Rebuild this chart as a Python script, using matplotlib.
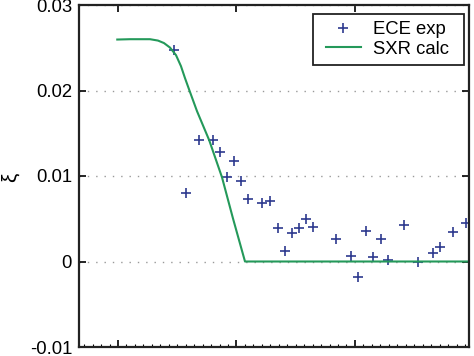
import matplotlib
matplotlib.use("Agg")
import matplotlib.pyplot as plt
from matplotlib.ticker import MultipleLocator, FixedLocator
from matplotlib.legend_handler import HandlerLine2D

plt.rcParams['font.family'] = ['Liberation Sans', 'DejaVu Sans']

# ECE experimental points
ece_x = [0.2945, 0.3148, 0.3367, 0.3604, 0.3722, 0.3958, 0.3840, 0.4076, 0.4194, 0.4431,
         0.4566, 0.4701, 0.4819, 0.4937, 0.5055, 0.5173, 0.5292, 0.5680, 0.5933, 0.6051,
         0.6186, 0.6304, 0.6439, 0.6558, 0.6828, 0.7064, 0.7317, 0.7435, 0.7655, 0.7874]
ece_y = [0.02473, 0.00797, 0.01418, 0.01418, 0.01277, 0.01172, 0.00984, 0.00938, 0.00727, 0.00680,
         0.00703, 0.00387, 0.00117, 0.00328, 0.00387, 0.00492, 0.00398, 0.00258, 0.00070, -0.00176,
         0.00352, 0.00047, 0.00258, 0.00023, 0.00422, 0.00000, 0.00094, 0.00164, 0.00340, 0.00445]

# SXR calculated curve
sxr_x = [0.1988, 0.2203, 0.2540, 0.2675, 0.2776, 0.2878, 0.2979, 0.3063, 0.3131, 0.3198,
         0.3334, 0.3540, 0.3756, 0.3941, 0.4144, 0.7924]
sxr_y = [0.02596, 0.02600, 0.02600, 0.02584, 0.02555, 0.02502, 0.02414, 0.02285, 0.02145, 0.02016,
         0.01758, 0.01418, 0.00984, 0.00504, 0.00000, 0.00000]

yticks = [-0.01, 0, 0.01, 0.02, 0.03]
ytick_labels = ['-0.01', '0', '0.01', '0.02', '0.03']
xticks = [0.2, 0.4, 0.6]

fig = plt.figure(figsize=(4.74, 3.56), dpi=100)
ax = fig.add_axes([79/474, 1-347/356, (469-79)/474, (347-5)/356])

l1, = ax.plot(ece_x, ece_y, linestyle='none', marker='+', markersize=7.5,
              markeredgewidth=1.2, color='#2e3a8f', label='ECE exp')
l2, = ax.plot(sxr_x, sxr_y, color='#24995a', linewidth=1.5, label='SXR calc')

ax.set_xlim(0.1342, 0.7925)
ax.set_ylim(-0.01, 0.03)
ax.yaxis.set_major_locator(FixedLocator(yticks))
ax.set_yticklabels(ytick_labels)
ax.xaxis.set_major_locator(FixedLocator(xticks))
ax.xaxis.set_minor_locator(MultipleLocator(0.2/14))

ax.tick_params(axis='both', which='major', direction='in', length=5, width=1.2,
               top=True, right=True, labelsize=13.3, pad=5, labelbottom=False)
ax.tick_params(axis='x', which='minor', direction='in', length=2.5, width=0.8,
               top=False, bottom=True)
ax.tick_params(axis='y', which='minor', left=False, right=False)

for s in ax.spines.values():
    s.set_linewidth(1.6)
    s.set_color('#222222')

ax.yaxis.grid(True, linestyle=(0, (1, 5)), color='#999999', linewidth=1.0)
ax.set_axisbelow(True)

bx0 = (313 - 79) / 390
bx1 = (464 - 79) / 390
by1 = 1 - (14 - 5) / 342
hm = {l1: HandlerLine2D(xpad=0.3), l2: HandlerLine2D(xpad=0.3)}
leg = ax.legend(handles=[l1, l2], handler_map=hm,
                loc='upper left', bbox_to_anchor=(bx0, by1 - 0.2, bx1 - bx0, 0.2),
                mode='expand', fontsize=13.3, frameon=True, fancybox=False, framealpha=1,
                edgecolor='#222222', borderpad=0.4, labelspacing=0.12,
                handlelength=2.2, handletextpad=0.65, borderaxespad=0)
leg.get_frame().set_linewidth(1.3)

fig.text(10/474, 1-177/356, 'ξ', rotation=90, ha='center', va='center', fontsize=15)

fig.savefig('out.png', dpi=100)
